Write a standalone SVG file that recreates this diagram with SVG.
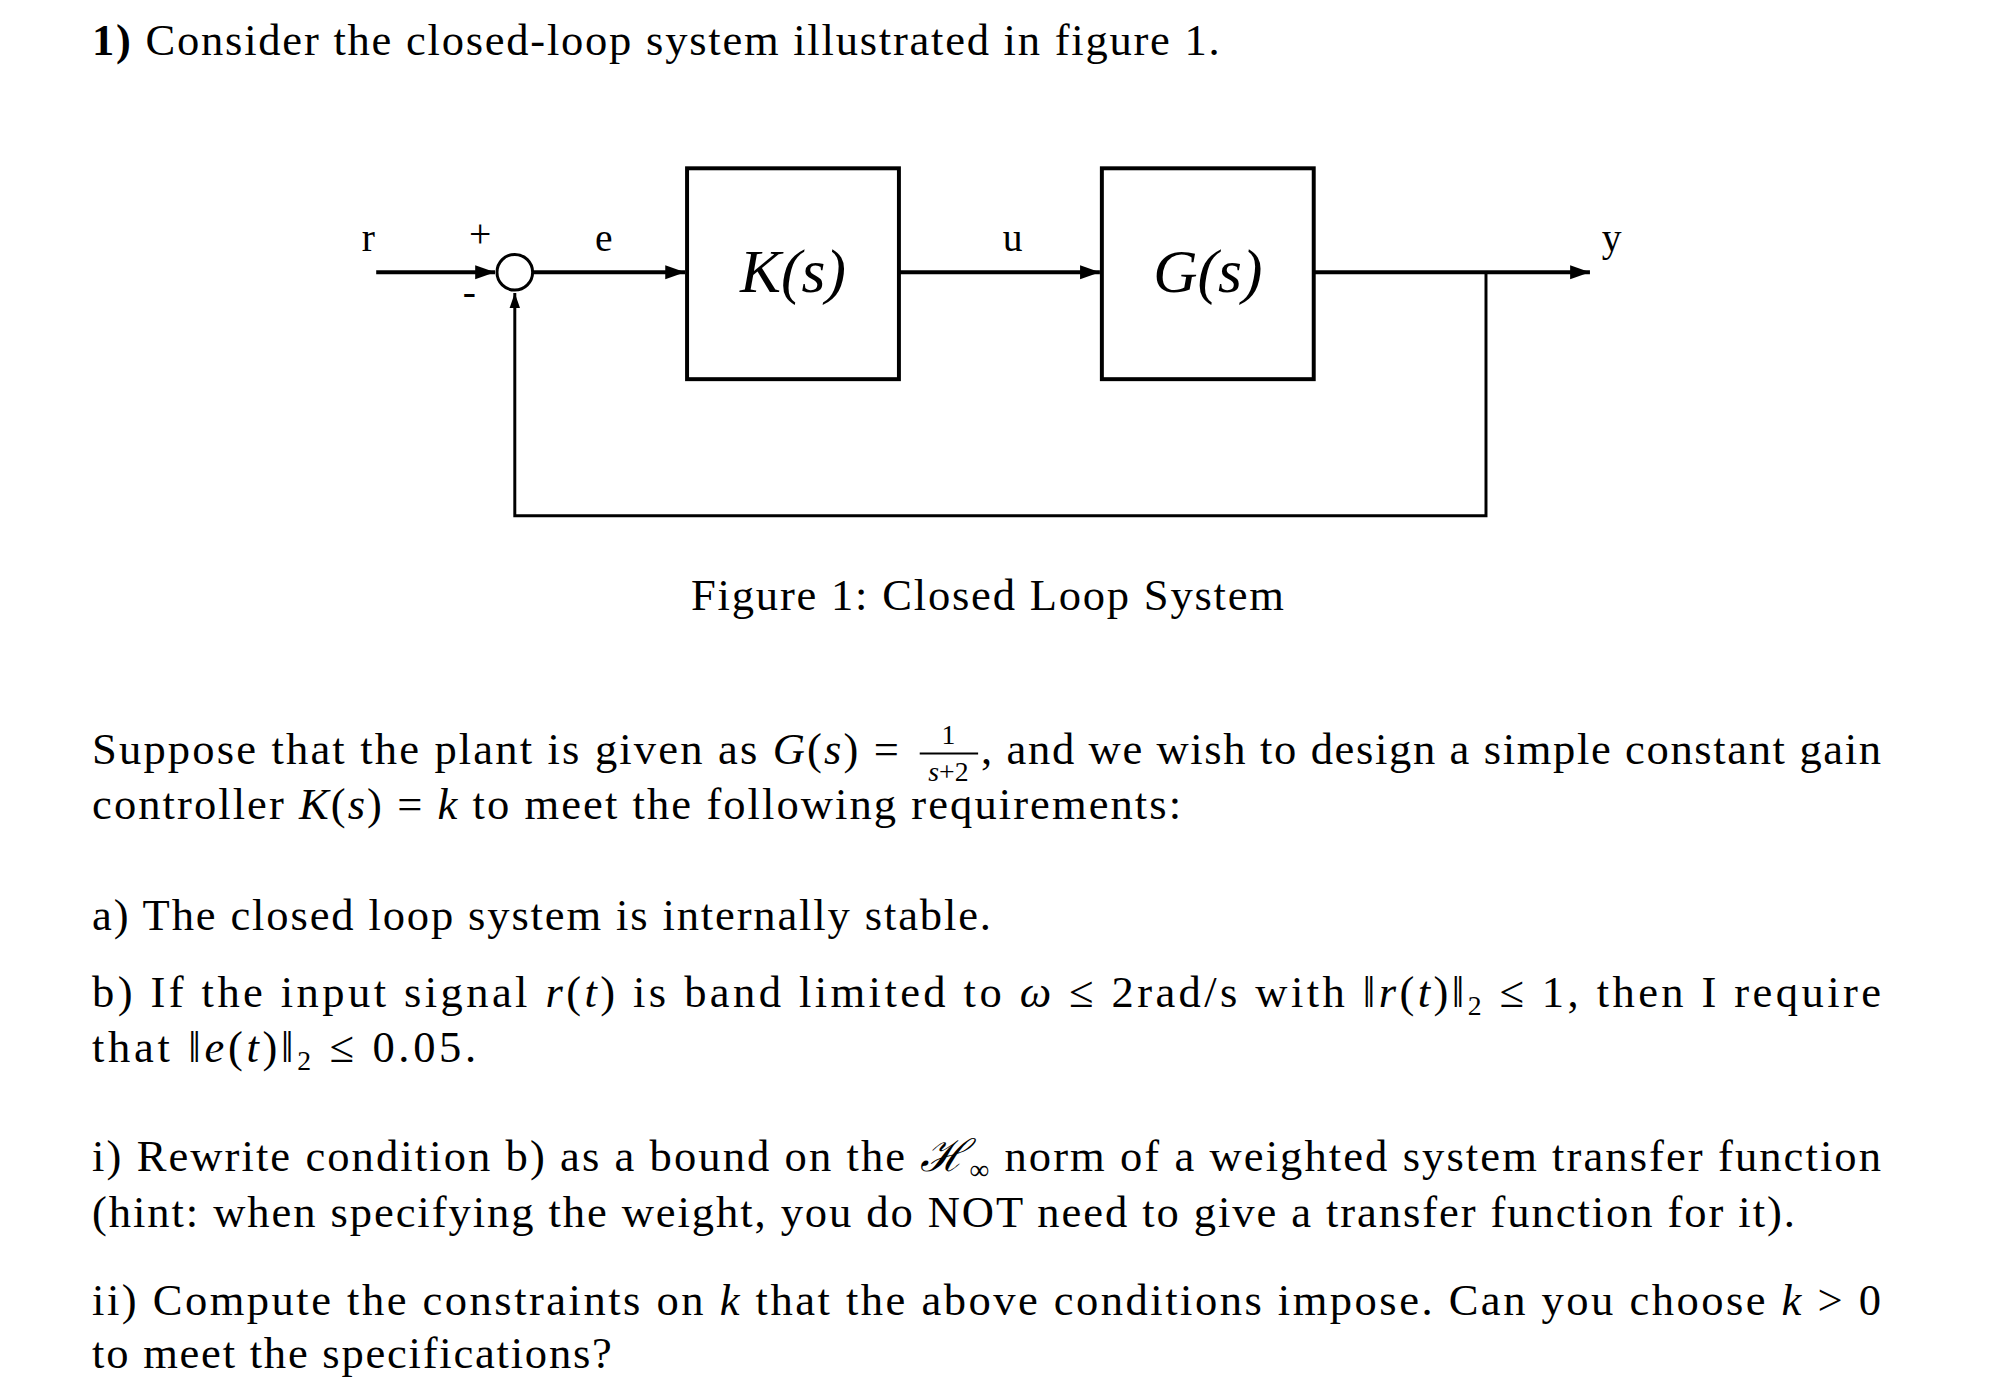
<svg xmlns="http://www.w3.org/2000/svg" width="2010" height="1387" viewBox="0 0 2010 1387">
<defs>
<style>
text{font-family:"Liberation Serif","DejaVu Serif",serif;fill:#000}
.t{font-size:45px}
.l{font-size:40px}
.m{font-size:62px;font-style:italic}
.ln{stroke:#000;stroke-width:4;fill:none}
.fb{stroke:#000;stroke-width:3;fill:none}
.i{font-style:italic}
.s{font-size:28px}
</style>
<marker id="ar2" viewBox="0 0 10 10" refX="10" refY="5" markerWidth="5" markerHeight="5" orient="auto"><path d="M0,1.5 L10,5 L0,8.5 z" fill="#000"/></marker>
</defs>
<rect width="2010" height="1387" fill="#fff"/>
<g transform="scale(0.99)">
<text class="t" x="93" y="56" textLength="1139" lengthAdjust="spacing"><tspan font-weight="bold">1)</tspan> Consider the closed-loop system illustrated in figure 1.</text>

<g id="connectors">
<line class="ln" x1="380" y1="275" x2="500" y2="275" marker-end="url(#ar2)"/>
<line class="ln" x1="538" y1="275" x2="692" y2="275" marker-end="url(#ar2)"/>
<line class="ln" x1="908" y1="275" x2="1111" y2="275" marker-end="url(#ar2)"/>
<line class="ln" x1="1327" y1="275" x2="1606" y2="275" marker-end="url(#ar2)"/>
<polyline class="fb" points="1501,275 1501,521 520,521 520,296" marker-end="url(#ar2)"/>
</g>
<g id="sum">
<circle cx="520" cy="275" r="18" fill="#fff" stroke="#000" stroke-width="3"/>
<text class="l" x="485" y="250" text-anchor="middle">+</text>
<text class="l" x="474" y="308" text-anchor="middle">-</text>
</g>
<g id="labels">
<text class="l" x="372" y="254" text-anchor="middle">r</text>
<text class="l" x="610" y="254" text-anchor="middle">e</text>
<text class="l" x="1023" y="254" text-anchor="middle">u</text>
<text class="l" x="1628" y="254" text-anchor="middle">y</text>
</g>
<g id="K">
<rect x="694" y="170" width="214" height="213" fill="none" stroke="#000" stroke-width="4"/>
<text class="m" x="801" y="295" text-anchor="middle">K(s)</text>
</g>
<g id="G">
<rect x="1113" y="170" width="214" height="213" fill="none" stroke="#000" stroke-width="4"/>
<text class="m" x="1220" y="295" text-anchor="middle">G(s)</text>
</g>
<text class="t" x="698" y="616" textLength="599" lengthAdjust="spacing">Figure 1: Closed Loop System</text>

<text class="t" x="93" y="772" textLength="815" lengthAdjust="spacing">Suppose that the plant is given as <tspan class="i">G</tspan>(<tspan class="i">s</tspan>) =</text>
<text class="s" x="958" y="752" text-anchor="middle">1</text>
<line x1="929" y1="761" x2="988" y2="761" stroke="#000" stroke-width="2"/>
<text class="s" x="958" y="789" text-anchor="middle"><tspan class="i">s</tspan>+2</text>
<text class="t" x="991" y="772" textLength="909" lengthAdjust="spacing">, and we wish to design a simple constant gain</text>
<text class="t" x="93" y="827" textLength="1100" lengthAdjust="spacing">controller <tspan class="i">K</tspan>(<tspan class="i">s</tspan>) = <tspan class="i">k</tspan> to meet the following requirements:</text>
<text class="t" x="93" y="939" textLength="908" lengthAdjust="spacing">a) The closed loop system is internally stable.</text>
<text class="t" x="93" y="1017" textLength="1807" lengthAdjust="spacing">b) If the input signal <tspan class="i">r</tspan>(<tspan class="i">t</tspan>) is band limited to <tspan class="i">ω</tspan> ≤ 2rad/s with ‖<tspan class="i">r</tspan>(<tspan class="i">t</tspan>)‖<tspan class="s" dy="8">2</tspan><tspan dy="-8"> ≤ 1, then I require</tspan></text>
<text class="t" x="93" y="1073" textLength="388" lengthAdjust="spacing">that ‖<tspan class="i">e</tspan>(<tspan class="i">t</tspan>)‖<tspan class="s" dy="8">2</tspan><tspan dy="-8"> ≤ 0.05.</tspan></text>
<text class="t" x="93" y="1183" textLength="1807" lengthAdjust="spacing">i) Rewrite condition b) as a bound on the <tspan class="i">ℋ</tspan><tspan class="s" dy="8">∞</tspan><tspan dy="-8"> norm of a weighted system transfer function</tspan></text>
<text class="t" x="93" y="1239" textLength="1720" lengthAdjust="spacing">(hint: when specifying the weight, you do NOT need to give a transfer function for it).</text>
<text class="t" x="93" y="1328" textLength="1807" lengthAdjust="spacing">ii) Compute the constraints on <tspan class="i">k</tspan> that the above conditions impose. Can you choose <tspan class="i">k</tspan> &gt; 0</text>
<text class="t" x="93" y="1382" textLength="525" lengthAdjust="spacing">to meet the specifications?</text>
</g>
</svg>
